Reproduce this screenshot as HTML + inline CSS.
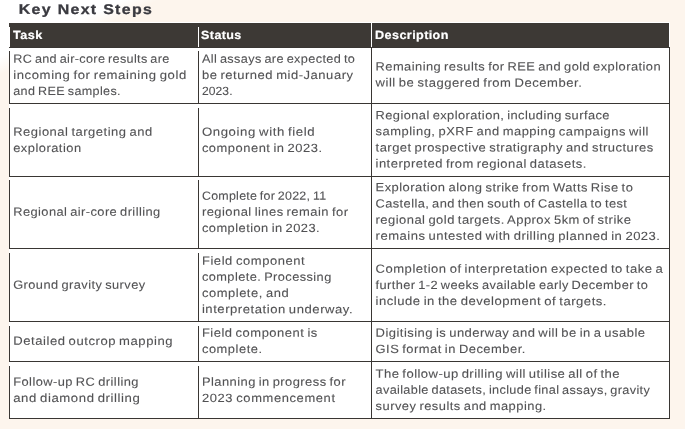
<!DOCTYPE html>
<html lang="en"><head><meta charset="utf-8"><title>Key Next Steps</title>
<style>
*{margin:0;padding:0;box-sizing:border-box}
html,body{width:685px;height:429px;overflow:hidden;background:#fdf5ed}
body{position:relative;font-family:"Liberation Sans",Arial,Helvetica,sans-serif}
svg.bg{position:absolute;left:0;top:0;width:685px;height:429px;display:block}
h1{font-size:inherit;font-weight:inherit}
.t{position:absolute;left:0;top:0;white-space:nowrap;line-height:1;transform-origin:0 0;height:1em;text-rendering:geometricPrecision}
.title{font-size:14.0px;font-weight:bold;color:#3a3a40;-webkit-text-stroke:0.3px #3a3a40}
.th{font-size:11.9px;font-weight:bold;color:#fff;-webkit-text-stroke:0.2px #fff}
.td{font-size:11.9px;color:#525254;word-spacing:-1.0px;-webkit-text-stroke:0.1px #525254}
</style></head>
<body>
<svg class="bg" aria-hidden="true" width="685" height="429" viewBox="0 0 685 429">
<defs><linearGradient id="wg" gradientUnits="userSpaceOnUse" x1="0" y1="0" x2="42.6" y2="90.4"><stop offset="0" stop-color="#fff"/><stop offset="0.52" stop-color="#fff"/><stop offset="0.68" stop-color="#fff" stop-opacity="0"/></linearGradient></defs>
<rect width="685" height="429" fill="#fdf5ed"/>
<rect width="220" height="110" fill="url(#wg)"/>
<rect x="9" y="22" width="661" height="397" fill="#fff"/>
<rect x="10" y="23" width="659" height="24" fill="#3d3935"/>
<rect x="9" y="23" width="1" height="4" fill="#3d3935"/>
<rect x="198" y="27" width="1" height="20" fill="#fff"/>
<rect x="371" y="23" width="1" height="24" fill="#fff"/>
<rect x="9" y="47" width="661" height="1" fill="#393633"/>
<rect x="9" y="103" width="661" height="1" fill="#393633"/>
<rect x="9" y="176" width="661" height="1" fill="#393633"/>
<rect x="9" y="248" width="661" height="1" fill="#393633"/>
<rect x="9" y="321" width="661" height="1" fill="#393633"/>
<rect x="9" y="361" width="661" height="1" fill="#393633"/>
<rect x="9" y="418" width="661" height="1" fill="#393633"/>
<rect x="9" y="51" width="1" height="52" fill="#393633"/>
<rect x="198" y="51" width="1" height="52" fill="#393633"/>
<rect x="9" y="108" width="1" height="68" fill="#393633"/>
<rect x="198" y="108" width="1" height="68" fill="#393633"/>
<rect x="9" y="180" width="1" height="68" fill="#393633"/>
<rect x="198" y="180" width="1" height="68" fill="#393633"/>
<rect x="9" y="253" width="1" height="68" fill="#393633"/>
<rect x="198" y="253" width="1" height="68" fill="#393633"/>
<rect x="9" y="326" width="1" height="35" fill="#393633"/>
<rect x="198" y="326" width="1" height="35" fill="#393633"/>
<rect x="9" y="366" width="1" height="52" fill="#393633"/>
<rect x="198" y="366" width="1" height="52" fill="#393633"/>
<rect x="371" y="47" width="1" height="371" fill="#393633"/>
<rect x="669" y="47" width="1" height="371" fill="#393633"/>
</svg>
<h1 class="t title" style="letter-spacing:1.156px;transform:translate(18.80px,1.87px) skewY(0.03deg) scaleX(1.1371)">Key Next Steps</h1>
<div role="table" aria-label="Key Next Steps">
<div role="row"><div role="columnheader"><div class="t th" style="letter-spacing:0.498px;transform:translate(12.90px,29.89px) skewY(0.03deg) scaleX(1.0603)">Task</div></div><div role="columnheader"><div class="t th" style="letter-spacing:0.366px;transform:translate(201.10px,29.89px) skewY(0.03deg) scaleX(1.0531)">Status</div></div><div role="columnheader"><div class="t th" style="letter-spacing:0.373px;transform:translate(375.10px,29.88px) skewY(0.03deg) scaleX(1.0605)">Description</div></div></div>
<div role="row">
<div role="cell">
<div class="t td" style="letter-spacing:0.314px;transform:translate(13.20px,53.76px) skewY(0.03deg) scaleX(1.0625)">RC and air-core results are</div>
<div class="t td" style="letter-spacing:0.522px;transform:translate(13.20px,69.90px) skewY(0.03deg) scaleX(1.1048)">incoming for remaining gold</div>
<div class="t td" style="letter-spacing:0.343px;transform:translate(13.20px,86.07px) skewY(0.03deg) scaleX(1.0564)">and REE samples.</div>
</div>
<div role="cell">
<div class="t td" style="letter-spacing:0.341px;transform:translate(201.90px,53.76px) skewY(0.03deg) scaleX(1.0675)">All assays are expected to</div>
<div class="t td" style="letter-spacing:0.490px;transform:translate(201.90px,69.91px) skewY(0.03deg) scaleX(1.0923)">be returned mid-January</div>
<div class="t td" style="letter-spacing:0.103px;transform:translate(201.90px,86.09px) skewY(0.03deg) scaleX(1.0140)">2023.</div>
</div>
<div role="cell">
<div class="t td" style="letter-spacing:0.416px;transform:translate(375.55px,61.43px) skewY(0.03deg) scaleX(1.0830)">Remaining results for REE and gold exploration</div>
<div class="t td" style="letter-spacing:0.488px;transform:translate(375.55px,77.60px) skewY(0.03deg) scaleX(1.0957)">will be staggered from December.</div>
</div>
</div>
<div role="row">
<div role="cell">
<div class="t td" style="letter-spacing:0.464px;transform:translate(13.20px,126.76px) skewY(0.03deg) scaleX(1.0903)">Regional targeting and</div>
<div class="t td" style="letter-spacing:0.448px;transform:translate(13.20px,142.93px) skewY(0.03deg) scaleX(1.0834)">exploration</div>
</div>
<div role="cell">
<div class="t td" style="letter-spacing:0.534px;transform:translate(201.90px,126.77px) skewY(0.03deg) scaleX(1.1088)">Ongoing with field</div>
<div class="t td" style="letter-spacing:0.477px;transform:translate(201.90px,142.92px) skewY(0.03deg) scaleX(1.0860)">component in 2023.</div>
</div>
<div role="cell">
<div class="t td" style="letter-spacing:0.398px;transform:translate(375.55px,110.14px) skewY(0.03deg) scaleX(1.0812)">Regional exploration, including surface</div>
<div class="t td" style="letter-spacing:0.467px;transform:translate(375.55px,126.28px) skewY(0.03deg) scaleX(1.0875)">sampling, pXRF and mapping campaigns will</div>
<div class="t td" style="letter-spacing:0.439px;transform:translate(375.55px,142.43px) skewY(0.03deg) scaleX(1.0920)">target prospective stratigraphy and structures</div>
<div class="t td" style="letter-spacing:0.440px;transform:translate(375.55px,158.59px) skewY(0.03deg) scaleX(1.0917)">interpreted from regional datasets.</div>
</div>
</div>
<div role="row">
<div role="cell">
<div class="t td" style="letter-spacing:0.384px;transform:translate(13.20px,206.76px) skewY(0.03deg) scaleX(1.0823)">Regional air-core drilling</div>
</div>
<div role="cell">
<div class="t td" style="letter-spacing:0.249px;transform:translate(201.90px,190.67px) skewY(0.03deg) scaleX(1.0457)">Complete for 2022, 11</div>
<div class="t td" style="letter-spacing:0.424px;transform:translate(201.90px,206.81px) skewY(0.03deg) scaleX(1.0896)">regional lines remain for</div>
<div class="t td" style="letter-spacing:0.425px;transform:translate(201.90px,222.97px) skewY(0.03deg) scaleX(1.0818)">completion in 2023.</div>
</div>
<div role="cell">
<div class="t td" style="letter-spacing:0.427px;transform:translate(375.55px,182.33px) skewY(0.03deg) scaleX(1.0896)">Exploration along strike from Watts Rise to</div>
<div class="t td" style="letter-spacing:0.376px;transform:translate(375.55px,198.48px) skewY(0.03deg) scaleX(1.0807)">Castella, and then south of Castella to test</div>
<div class="t td" style="letter-spacing:0.429px;transform:translate(375.55px,214.63px) skewY(0.03deg) scaleX(1.0909)">regional gold targets. Approx 5km of strike</div>
<div class="t td" style="letter-spacing:0.455px;transform:translate(375.55px,230.78px) skewY(0.03deg) scaleX(1.0961)">remains untested with drilling planned in 2023.</div>
</div>
</div>
<div role="row">
<div role="cell">
<div class="t td" style="letter-spacing:0.408px;transform:translate(13.20px,279.77px) skewY(0.03deg) scaleX(1.0769)">Ground gravity survey</div>
</div>
<div role="cell">
<div class="t td" style="letter-spacing:0.520px;transform:translate(201.90px,255.67px) skewY(0.03deg) scaleX(1.0913)">Field component</div>
<div class="t td" style="letter-spacing:0.409px;transform:translate(201.90px,271.82px) skewY(0.03deg) scaleX(1.0740)">complete. Processing</div>
<div class="t td" style="letter-spacing:0.498px;transform:translate(201.90px,287.98px) skewY(0.03deg) scaleX(1.0883)">complete, and</div>
<div class="t td" style="letter-spacing:0.494px;transform:translate(201.90px,304.11px) skewY(0.03deg) scaleX(1.0993)">interpretation underway.</div>
</div>
<div role="cell">
<div class="t td" style="letter-spacing:0.463px;transform:translate(375.55px,263.72px) skewY(0.03deg) scaleX(1.0972)">Completion of interpretation expected to take a</div>
<div class="t td" style="letter-spacing:0.377px;transform:translate(375.55px,279.88px) skewY(0.03deg) scaleX(1.0754)">further 1-2 weeks available early December to</div>
<div class="t td" style="letter-spacing:0.471px;transform:translate(375.55px,296.04px) skewY(0.03deg) scaleX(1.0994)">include in the development of targets.</div>
</div>
</div>
<div role="row">
<div role="cell">
<div class="t td" style="letter-spacing:0.511px;transform:translate(13.20px,335.86px) skewY(0.03deg) scaleX(1.0966)">Detailed outcrop mapping</div>
</div>
<div role="cell">
<div class="t td" style="letter-spacing:0.475px;transform:translate(201.90px,327.77px) skewY(0.03deg) scaleX(1.0899)">Field component is</div>
<div class="t td" style="letter-spacing:0.495px;transform:translate(201.90px,343.93px) skewY(0.03deg) scaleX(1.0832)">complete.</div>
</div>
<div role="cell">
<div class="t td" style="letter-spacing:0.428px;transform:translate(375.55px,327.73px) skewY(0.03deg) scaleX(1.0927)">Digitising is underway and will be in a usable</div>
<div class="t td" style="letter-spacing:0.459px;transform:translate(375.55px,343.91px) skewY(0.03deg) scaleX(1.0858)">GIS format in December.</div>
</div>
</div>
<div role="row">
<div role="cell">
<div class="t td" style="letter-spacing:0.407px;transform:translate(13.20px,376.77px) skewY(0.03deg) scaleX(1.0817)">Follow-up RC drilling</div>
<div class="t td" style="letter-spacing:0.527px;transform:translate(13.20px,392.92px) skewY(0.03deg) scaleX(1.1061)">and diamond drilling</div>
</div>
<div role="cell">
<div class="t td" style="letter-spacing:0.421px;transform:translate(201.90px,376.76px) skewY(0.03deg) scaleX(1.0857)">Planning in progress for</div>
<div class="t td" style="letter-spacing:0.568px;transform:translate(201.90px,392.92px) skewY(0.03deg) scaleX(1.0872)">2023 commencement</div>
</div>
<div role="cell">
<div class="t td" style="letter-spacing:0.406px;transform:translate(375.55px,368.64px) skewY(0.03deg) scaleX(1.0984)">The follow-up drilling will utilise all of the</div>
<div class="t td" style="letter-spacing:0.319px;transform:translate(375.55px,384.78px) skewY(0.03deg) scaleX(1.0677)">available datasets, include final assays, gravity</div>
<div class="t td" style="letter-spacing:0.441px;transform:translate(375.55px,400.96px) skewY(0.03deg) scaleX(1.0854)">survey results and mapping.</div>
</div>
</div>
</div>
</body></html>
